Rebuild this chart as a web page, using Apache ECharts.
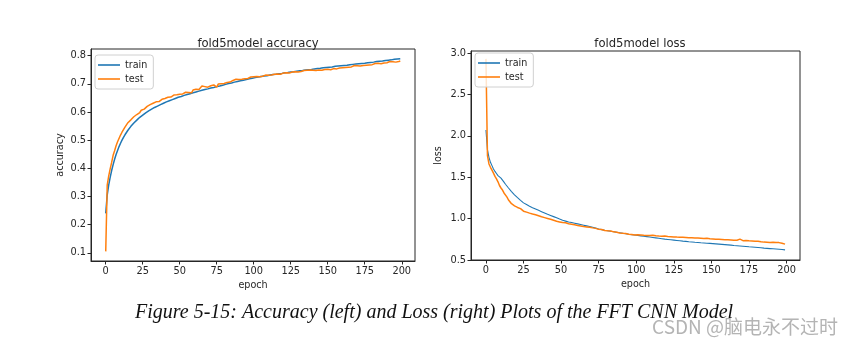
<!DOCTYPE html>
<html>
<head>
<meta charset="utf-8">
<script src="https://cdn.jsdelivr.net/npm/echarts@6/dist/echarts.min.js"></script>
<style>
  html, body { margin: 0; padding: 0; background: #fff; }
  #chart { width: 853px; height: 349px; }
</style>
</head>
<body>
<div id="chart"></div>
<script>
// Training history of the fold-5 model, one value per epoch (0..199)
const accTrain = [
  0.240, 0.305, 0.340, 0.368, 0.392, 0.413, 0.432, 0.449, 0.463, 0.477,
  0.489, 0.500, 0.510, 0.519, 0.527, 0.535, 0.542, 0.549, 0.555, 0.561,
  0.566, 0.571, 0.576, 0.581, 0.585, 0.589, 0.593, 0.597, 0.600, 0.604,
  0.607, 0.610, 0.613, 0.616, 0.619, 0.621, 0.624, 0.626, 0.629, 0.631,
  0.633, 0.636, 0.638, 0.640, 0.642, 0.644, 0.646, 0.648, 0.650, 0.652,
  0.653, 0.655, 0.657, 0.659, 0.660, 0.662, 0.664, 0.665, 0.667, 0.668,
  0.670, 0.671, 0.673, 0.674, 0.676, 0.677, 0.678, 0.680, 0.681, 0.682,
  0.684, 0.685, 0.686, 0.687, 0.689, 0.690, 0.691, 0.692, 0.693, 0.695,
  0.697, 0.698, 0.700, 0.701, 0.702, 0.703, 0.705, 0.706, 0.707, 0.708,
  0.709, 0.711, 0.712, 0.713, 0.714, 0.715, 0.716, 0.718, 0.719, 0.720,
  0.721, 0.722, 0.723, 0.724, 0.725, 0.726, 0.727, 0.728, 0.728, 0.729,
  0.730, 0.731, 0.732, 0.733, 0.733, 0.734, 0.735, 0.736, 0.737, 0.737,
  0.738, 0.739, 0.740, 0.740, 0.741, 0.742, 0.743, 0.743, 0.744, 0.745,
  0.745, 0.746, 0.747, 0.747, 0.748, 0.749, 0.749, 0.750, 0.751, 0.751,
  0.752, 0.753, 0.753, 0.754, 0.755, 0.755, 0.756, 0.757, 0.757, 0.758,
  0.759, 0.759, 0.760, 0.760, 0.761, 0.762, 0.762, 0.763, 0.763, 0.764,
  0.765, 0.765, 0.766, 0.766, 0.767, 0.768, 0.768, 0.769, 0.769, 0.770,
  0.770, 0.771, 0.772, 0.772, 0.773, 0.773, 0.774, 0.775, 0.775, 0.776,
  0.777, 0.777, 0.778, 0.779, 0.779, 0.780, 0.781, 0.781, 0.782, 0.783,
  0.783, 0.784, 0.785, 0.785, 0.786, 0.787, 0.787, 0.788, 0.789, 0.789
];
const accTest = [
  0.105, 0.340, 0.372, 0.398, 0.421, 0.446, 0.462, 0.480, 0.494, 0.497,
  0.518, 0.528, 0.534, 0.546, 0.551, 0.562, 0.568, 0.572, 0.578, 0.583,
  0.585, 0.591, 0.596, 0.598, 0.606, 0.612, 0.610, 0.617, 0.620, 0.619,
  0.626, 0.628, 0.631, 0.630, 0.636, 0.638, 0.637, 0.642, 0.645, 0.643,
  0.648, 0.650, 0.652, 0.655, 0.653, 0.658, 0.660, 0.659, 0.661, 0.658,
  0.663, 0.665, 0.664, 0.668, 0.670, 0.671, 0.669, 0.675, 0.668, 0.678,
  0.679, 0.681, 0.683, 0.680, 0.686, 0.692, 0.689, 0.690, 0.691, 0.688,
  0.692, 0.693, 0.690, 0.696, 0.694, 0.688, 0.699, 0.702, 0.700, 0.703,
  0.701, 0.704, 0.705, 0.703, 0.706, 0.709, 0.712, 0.711, 0.716, 0.714,
  0.715, 0.717, 0.716, 0.719, 0.718, 0.721, 0.719, 0.722, 0.724, 0.721,
  0.725, 0.724, 0.726, 0.727, 0.725, 0.728, 0.727, 0.729, 0.731, 0.728,
  0.730, 0.732, 0.731, 0.733, 0.734, 0.732, 0.735, 0.736, 0.734, 0.737,
  0.738, 0.736, 0.739, 0.740, 0.738, 0.741, 0.742, 0.740, 0.743, 0.744,
  0.742, 0.745, 0.744, 0.746, 0.747, 0.743, 0.748, 0.746, 0.749, 0.745,
  0.748, 0.750, 0.747, 0.751, 0.749, 0.752, 0.748, 0.753, 0.751, 0.754,
  0.752, 0.755, 0.750, 0.756, 0.754, 0.757, 0.753, 0.758, 0.756, 0.759,
  0.757, 0.760, 0.758, 0.761, 0.759, 0.762, 0.760, 0.763, 0.765, 0.761,
  0.764, 0.766, 0.763, 0.767, 0.765, 0.768, 0.766, 0.769, 0.767, 0.770,
  0.768, 0.771, 0.772, 0.769, 0.773, 0.775, 0.771, 0.776, 0.774, 0.777,
  0.775, 0.778, 0.779, 0.776, 0.778, 0.780, 0.777, 0.774, 0.779, 0.781
];
const lossTrain = [
  2.070, 1.830, 1.740, 1.680, 1.640, 1.600, 1.570, 1.545, 1.520, 1.505,
  1.490, 1.465, 1.440, 1.415, 1.392, 1.370, 1.348, 1.327, 1.307, 1.288,
  1.270, 1.253, 1.236, 1.220, 1.205, 1.190, 1.180, 1.170, 1.160, 1.150,
  1.140, 1.132, 1.124, 1.116, 1.108, 1.100, 1.092, 1.084, 1.076, 1.068,
  1.060, 1.052, 1.045, 1.038, 1.031, 1.024, 1.017, 1.010, 1.003, 0.994,
  0.985, 0.980, 0.975, 0.970, 0.965, 0.960, 0.956, 0.952, 0.948, 0.944,
  0.940, 0.936, 0.932, 0.928, 0.924, 0.920, 0.916, 0.912, 0.908, 0.904,
  0.900, 0.895, 0.890, 0.885, 0.880, 0.875, 0.871, 0.867, 0.863, 0.859,
  0.856, 0.853, 0.850, 0.847, 0.844, 0.841, 0.838, 0.835, 0.832, 0.829,
  0.826, 0.823, 0.820, 0.817, 0.814, 0.811, 0.808, 0.806, 0.804, 0.802,
  0.800, 0.797, 0.795, 0.792, 0.790, 0.787, 0.785, 0.782, 0.780, 0.777,
  0.775, 0.772, 0.770, 0.767, 0.765, 0.762, 0.760, 0.757, 0.755, 0.752,
  0.750, 0.748, 0.746, 0.744, 0.742, 0.740, 0.738, 0.736, 0.734, 0.732,
  0.730, 0.728, 0.727, 0.725, 0.723, 0.721, 0.720, 0.718, 0.716, 0.714,
  0.713, 0.711, 0.710, 0.708, 0.707, 0.706, 0.705, 0.703, 0.702, 0.701,
  0.700, 0.698, 0.697, 0.695, 0.694, 0.692, 0.690, 0.689, 0.687, 0.686,
  0.684, 0.683, 0.681, 0.680, 0.678, 0.676, 0.675, 0.673, 0.672, 0.670,
  0.668, 0.667, 0.665, 0.664, 0.662, 0.660, 0.659, 0.657, 0.656, 0.654,
  0.652, 0.651, 0.649, 0.648, 0.646, 0.644, 0.643, 0.641, 0.640, 0.638,
  0.636, 0.635, 0.633, 0.632, 0.630, 0.629, 0.627, 0.626, 0.624, 0.622
];
const lossTest = [
  2.930, 1.760, 1.660, 1.620, 1.585, 1.550, 1.510, 1.480, 1.445, 1.400,
  1.370, 1.345, 1.310, 1.290, 1.260, 1.225, 1.205, 1.180, 1.170, 1.155,
  1.145, 1.135, 1.128, 1.120, 1.105, 1.090, 1.085, 1.078, 1.072, 1.066,
  1.062, 1.055, 1.050, 1.046, 1.040, 1.034, 1.030, 1.022, 1.018, 1.012,
  1.005, 1.002, 0.995, 0.992, 0.985, 0.980, 0.978, 0.968, 0.965, 0.960,
  0.955, 0.952, 0.948, 0.950, 0.942, 0.938, 0.945, 0.932, 0.930, 0.925,
  0.922, 0.918, 0.920, 0.912, 0.910, 0.905, 0.907, 0.900, 0.898, 0.895,
  0.893, 0.888, 0.890, 0.882, 0.878, 0.870, 0.866, 0.868, 0.860, 0.856,
  0.858, 0.852, 0.848, 0.850, 0.844, 0.840, 0.838, 0.835, 0.830, 0.826,
  0.824, 0.822, 0.818, 0.820, 0.815, 0.812, 0.810, 0.808, 0.806, 0.803,
  0.800, 0.805, 0.798, 0.802, 0.796, 0.799, 0.794, 0.797, 0.792, 0.795,
  0.790, 0.798, 0.788, 0.792, 0.786, 0.789, 0.784, 0.787, 0.782, 0.790,
  0.780, 0.785, 0.778, 0.782, 0.776, 0.779, 0.774, 0.777, 0.772, 0.776,
  0.770, 0.774, 0.768, 0.772, 0.766, 0.770, 0.765, 0.768, 0.763, 0.766,
  0.761, 0.765, 0.759, 0.763, 0.757, 0.760, 0.755, 0.762, 0.753, 0.756,
  0.750, 0.754, 0.748, 0.752, 0.746, 0.750, 0.744, 0.748, 0.742, 0.746,
  0.740, 0.744, 0.738, 0.742, 0.737, 0.740, 0.735, 0.739, 0.745, 0.752,
  0.738, 0.734, 0.731, 0.735, 0.728, 0.732, 0.726, 0.730, 0.724, 0.728,
  0.722, 0.726, 0.735, 0.720, 0.723, 0.716, 0.720, 0.714, 0.718, 0.712,
  0.710, 0.714, 0.708, 0.711, 0.706, 0.710, 0.704, 0.702, 0.698, 0.692
];

// Tick positions
const epochTicks = [0, 25, 50, 75, 100, 125, 150, 175, 200];
const accTicks = [0.1, 0.2, 0.3, 0.4, 0.5, 0.6, 0.7, 0.8];
const lossTicks = [0.5, 1.0, 1.5, 2.0, 2.5, 3.0];

const titles = ['fold5model accuracy', 'fold5model loss'];
const caption = 'Figure 5-15: Accuracy (left) and Loss (right) Plots of the FFT CNN Model';
const watermark = 'CSDN @脑电永不过时';

const BLUE = '#1f77b4';
const ORANGE = '#ff7f0e';
const INK = '#262626';
const FONT = 'DejaVu Sans';

const pairs = (arr) => arr.map((v, i) => [i, v]);

function xAxisFor(gridIndex) {
  return {
    type: 'value', gridIndex, min: -9.95, max: 208.95,
    name: 'epoch', nameLocation: 'middle', nameGap: 19,
    nameTextStyle: { color: INK, fontFamily: FONT, fontSize: 9.6 },
    axisLine: { show: true, onZero: false, lineStyle: { color: INK, width: 1 } },
    axisTick: { show: true, length: 3.5, customValues: epochTicks, lineStyle: { color: INK } },
    axisLabel: { customValues: epochTicks, color: INK, fontFamily: FONT, fontSize: 9.8, margin: 5 },
    splitLine: { show: false }
  };
}
function yAxisFor(gridIndex, min, max, ticks, name, gap) {
  return {
    type: 'value', gridIndex, min, max,
    name, nameLocation: 'middle', nameGap: gap, nameRotate: 90,
    nameTextStyle: { color: INK, fontFamily: FONT, fontSize: 9.6 },
    axisLine: { show: true, onZero: false, lineStyle: { color: INK, width: 1 } },
    axisTick: { show: true, length: 3.5, customValues: ticks, lineStyle: { color: INK } },
    axisLabel: { customValues: ticks, color: INK, fontFamily: FONT, fontSize: 9.8, margin: 5,
                 formatter: (v) => v.toFixed(1) },
    splitLine: { show: false }
  };
}
function legendAt(left, top) {
  return {
    orient: 'vertical', left, top,
    padding: [4, 6, 4, 3], itemGap: 2, itemWidth: 22, itemHeight: 1.6,
    backgroundColor: 'rgba(255,255,255,0.8)', borderColor: '#d0d0d0', borderWidth: 1, borderRadius: 3,
    textStyle: { color: INK, fontFamily: FONT, fontSize: 9.6, lineHeight: 12 },
    data: [
      { name: 'train', icon: 'rect', itemStyle: { color: BLUE } },
      { name: 'test', icon: 'rect', itemStyle: { color: ORANGE } }
    ]
  };
}
function lineSeries(name, data, color, width, idx) {
  return {
    name, type: 'line', data: pairs(data), xAxisIndex: idx, yAxisIndex: idx,
    showSymbol: false, symbol: 'none', silent: true, animation: false,
    lineStyle: { color, width }, itemStyle: { color }
  };
}

const chart = echarts.init(document.getElementById('chart'), null, { renderer: 'canvas' });
chart.setOption({
  backgroundColor: '#fff',
  animation: false,
  title: [
    { text: titles[0], left: 253, top: 33, textAlign: 'center',
      textStyle: { color: INK, fontFamily: FONT, fontSize: 11.6, fontWeight: 'normal' } },
    { text: titles[1], left: 635, top: 33, textAlign: 'center',
      textStyle: { color: INK, fontFamily: FONT, fontSize: 11.6, fontWeight: 'normal' } }
  ],
  grid: [
    { left: 91, right: 438, top: 49, bottom: 88, show: true, borderColor: INK, borderWidth: 1 },
    { left: 471, right: 53, top: 51, bottom: 89, show: true, borderColor: INK, borderWidth: 1 }
  ],
  legend: [legendAt(95, 55), legendAt(475, 53)],
  xAxis: [xAxisFor(0), xAxisFor(1)],
  yAxis: [
    yAxisFor(0, 0.0708, 0.8236, accTicks, 'accuracy', 26),
    yAxisFor(1, 0.5, 3.025, lossTicks, 'loss', 28)
  ],
  series: [
    lineSeries('train', accTrain, BLUE, 1.5, 0),
    lineSeries('test', accTest, ORANGE, 1.5, 0),
    lineSeries('train', lossTrain, BLUE, 1.1, 1),
    lineSeries('test', lossTest, ORANGE, 1.5, 1)
  ],
  graphic: [
    { type: 'text', left: 135, top: 303,
      style: { text: caption, fill: '#111', font: 'italic 20px "Liberation Serif"' } },
    { type: 'text', right: 15, top: 317,
      style: { text: watermark, fill: '#b4b4b4', font: '19px "Noto Sans CJK SC"' } }
  ]
});
</script>
</body>
</html>
